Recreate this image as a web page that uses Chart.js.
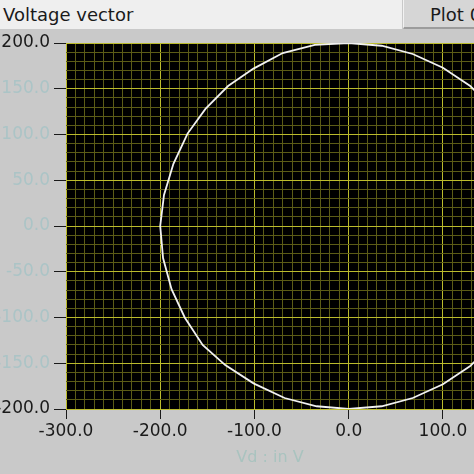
<!DOCTYPE html>
<html>
<head>
<meta charset="utf-8">
<script src="https://cdn.jsdelivr.net/npm/chart.js@4.4.1/dist/chart.umd.min.js"></script>
<style>
    html, body {
        margin: 0;
        padding: 0;
        background: #c9c9c9;
        overflow: hidden;
    }
    #wrap {
        position: relative;
        width: 474px;
        height: 474px;
    }
    #grafico {
        position: absolute;
        left: 0;
        top: 0;
    }
    #titulo {
        position: absolute;
        left: 0;
        top: 0;
        width: 402px;
        height: 29px;
        background: #efefef;
        font-family: "DejaVu Sans", sans-serif;
        font-size: 18px;
        color: #1a1a1a;
        line-height: 29px;
        padding-left: 3px;
        box-sizing: border-box;
    }
    #botao {
        position: absolute;
        left: 403px;
        top: 0;
        width: 80px;
        height: 29px;
        background: #d6d6d6;
        border-left: 1px solid #f2f2f2;
        border-bottom: 2px solid #9c9c9c;
        font-family: "DejaVu Sans", sans-serif;
        font-size: 18px;
        color: #1a1a1a;
        line-height: 29px;
        padding-left: 26px;
        box-sizing: border-box;
    }
</style>
</head>
<body>
<div id="wrap">
    <canvas id="grafico" width="474" height="474"></canvas>
    <div id="titulo">Voltage vector</div>
    <div id="botao">Plot 0</div>
</div>
<script>
// tensão no plano, percorrendo o círculo
const tensaoX = [0, -36, -70, -101, -128, -152, -171, -186, -196, -200, -197, -188, -174, -155, -131, -101, -68, -34, 0,
    35, 68, 100, 129, 153, 173, 188, 197, 200, 197, 188, 173, 153, 129, 100, 68, 35, 0];
const tensaoY = [200, 198, 189, 172, 153, 128, 101, 68, 34, 0, -35, -69, -100, -130, -152, -172, -188, -197, -200,
    -197, -188, -173, -153, -129, -100, -68, -35, 0, 35, 68, 100, 129, 153, 173, 188, 197, 200];

const ticksX = [-300, -200, -100, 0, 100];
const ticksY = [200, 150, 100, 50, 0, -50, -100, -150, -200];
const rotuloX = "Vd : in V";

const pontos = tensaoX.map((x, i) => ({ x: x, y: tensaoY[i] }));

const corMaior = "#bcbc2c";
const corMenor = "#5c5c16";

const fundoPreto = {
    id: "fundoPreto",
    beforeDraw(chart) {
        const a = chart.chartArea;
        chart.ctx.save();
        chart.ctx.fillStyle = "#000000";
        chart.ctx.fillRect(a.left, a.top, a.right - a.left, a.bottom - a.top);
        chart.ctx.restore();
    }
};

const ctx = document.getElementById("grafico").getContext("2d");

new Chart(ctx, {
    type: "scatter",
    data: {
        datasets: [{
            data: pontos,
            showLine: true,
            borderColor: "#f2f2f2",
            borderWidth: 1.8,
            pointRadius: 0,
            tension: 0
        }]
    },
    options: {
        responsive: false,
        animation: false,
        layout: {
            padding: { top: 43, right: 0, bottom: 0, left: 0 }
        },
        plugins: {
            legend: { display: false },
            tooltip: { enabled: false }
        },
        scales: {
            x: {
                type: "linear",
                min: -300,
                max: 133,
                border: { display: false },
                afterFit(scale) {
                    scale.height = 65;
                },
                title: {
                    display: true,
                    text: rotuloX,
                    color: "#a9c3bf",
                    font: { family: "DejaVu Sans", size: 16 },
                    padding: { top: 0, bottom: 7 }
                },
                ticks: {
                    stepSize: 10,
                    includeBounds: false,
                    autoSkip: false,
                    maxRotation: 0,
                    padding: 2,
                    color: "#1a1a1a",
                    font: { family: "DejaVu Sans", size: 17 },
                    callback: v => ticksX.includes(v) ? v.toFixed(1) : ""
                },
                grid: {
                    tickLength: 10,
                    lineWidth: 1,
                    color: c => ticksX.includes(c.tick.value) ? corMaior : corMenor,
                    tickColor: c => ticksX.includes(c.tick.value) ? "#1a1a1a" : "rgba(0,0,0,0)"
                }
            },
            y: {
                type: "linear",
                min: -200,
                max: 200,
                border: { display: false },
                afterFit(scale) {
                    scale.width = 66;
                },
                ticks: {
                    stepSize: 10,
                    autoSkip: false,
                    padding: 4,
                    font: { family: "DejaVu Sans", size: 17 },
                    color: c => Math.abs(c.tick.value) === 200 ? "#1a1a1a" : "#abc4c6",
                    callback: v => ticksY.includes(v) ? v.toFixed(1) : ""
                },
                grid: {
                    tickLength: 12,
                    lineWidth: 1,
                    color: c => ticksY.includes(c.tick.value) ? corMaior : corMenor,
                    tickColor: c => ticksY.includes(c.tick.value) ? "#1a1a1a" : "rgba(0,0,0,0)"
                }
            }
        }
    },
    plugins: [fundoPreto]
});
</script>
</body>
</html>
